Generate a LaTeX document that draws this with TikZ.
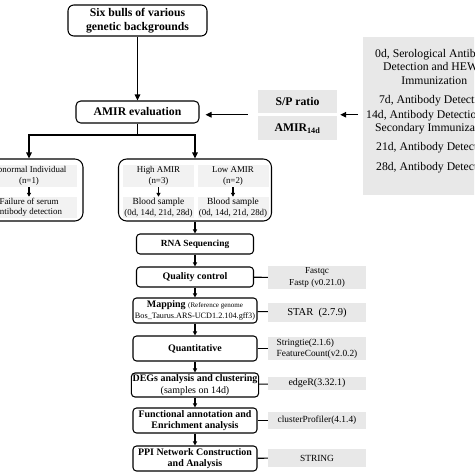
\documentclass[tikz,border=0pt]{standalone}
\usepackage{fontspec}
\setmainfont{Liberation Serif}
\usetikzlibrary{arrows.meta, positioning, calc}
\definecolor{boxgray}{RGB}{232,232,232}
\definecolor{innergray}{RGB}{242,242,242}

\begin{document}
\begin{tikzpicture}[
  x=0.03cm, y=-0.03cm,
  mainbox/.style={rectangle, draw, line width=0.9pt, rounded corners=3pt, fill=white, align=center,
    inner sep=1pt, minimum width=3.72cm, minimum height=0.75cm, font=\fontsize{8.5}{10}\selectfont\bfseries},
  topbox/.style={mainbox, rounded corners=5pt, font=\fontsize{10}{12}\selectfont\bfseries},
  greybox/.style={rectangle, fill=boxgray, align=center, inner sep=1pt, minimum width=2.94cm,
    font=\fontsize{8}{9.5}\selectfont},
  groupbox/.style={rectangle, draw, line width=0.9pt, rounded corners=7pt, minimum height=1.86cm},
  innerbox/.style={rectangle, fill=innergray, align=center, inner sep=0pt, minimum height=0.66cm,
    font=\fontsize{7.6}{9}\selectfont},
  arr/.style={-{Triangle[length=1.8mm,width=1.7mm]}, line width=0.9pt},
  smallarr/.style={-{Triangle[length=1.2mm,width=1.2mm]}, line width=0.9pt},
  link/.style={line width=0.9pt}
]
\useasboundingbox (0,0) rectangle (474,474);
\clip (0,0) rectangle (474,474);
\fill[white] (0,0) rectangle (474,474);

% evaluation part
\node[topbox, minimum width=4.17cm, minimum height=0.93cm] (bulls) at (137.5,20.5) {Six bulls of various\\genetic backgrounds};
\node[topbox, minimum width=3.69cm, minimum height=0.66cm, rounded corners=4pt] (amir) at (137.5,112) {AMIR evaluation};
\node[greybox, minimum width=2.37cm, minimum height=0.69cm, font=\fontsize{10}{12}\selectfont\bfseries] (spratio) at (297.5,101.5) {S/P ratio};
\node[greybox, minimum width=2.37cm, minimum height=0.72cm, font=\fontsize{10}{12}\selectfont\bfseries, below=0.09cm of spratio] (amir14) {AMIR\textsubscript{14d}};
\node[greybox, anchor=north west, inner sep=0pt, font=\fontsize{10}{11.5}\selectfont] (days) at (363,37)
  {\parbox[t][4.74cm][t]{4.26cm}{\centering\vspace*{10pt}%
    0d, Serological Antibody\\Detection and HEWL\\Immunization\\[5pt]
    7d, Antibody Detection\\[1pt]
    14d, Antibody Detection and\\Secondary Immunization\\[5pt]
    21d, Antibody Detection\\[5pt]
    28d, Antibody Detection}};

\draw[arr] (bulls) -- (amir);
\coordinate (spjoin) at ($(spratio.south west)!0.5!(amir14.north west)$);
\draw[arr, shorten <=0.3cm, shorten >=0.18cm] (spjoin) -- (amir.east |- spjoin);
\draw[arr, shorten <=0.15cm, shorten >=0.09cm] (days.west |- spjoin) -- (spratio.east |- spjoin);

% groups
\node[groupbox, minimum width=3.24cm] (abnbox) at (29,190) {};
\node[innerbox, minimum width=2.88cm] (abnormal) at (29,176) {Abnormal Individual\\(n=1)};
\node[innerbox, minimum width=2.88cm, minimum height=0.63cm] (failure) at (29,207.5) {Failure of serum\\antibody detection};
\node[groupbox, minimum width=4.59cm] (midbox) at (195,190) {};
\node[innerbox, minimum width=2.13cm] (high) at (158.5,176) {High AMIR\\(n=3)};
\node[innerbox, minimum width=2.13cm] (low) at (233,176) {Low AMIR\\(n=2)};
\node[innerbox, minimum width=2.13cm, minimum height=0.63cm] (highblood) at (158.5,207.5) {\fontsize{8}{9}\selectfont Blood sample\\(0d, 14d, 21d, 28d)};
\node[innerbox, minimum width=2.13cm, minimum height=0.63cm] (lowblood) at (233,207.5) {\fontsize{8}{9}\selectfont Blood sample\\(0d, 14d, 21d, 28d)};

\coordinate (split) at (137.5,135);
\draw[link] (amir) -- (split);
\draw[arr] (split) -| (abnbox.north);
\draw[arr] (split) -| (midbox.north);
\draw[smallarr] (abnormal) -- (failure);
\draw[smallarr] (high) -- (highblood);
\draw[smallarr] (low) -- (lowblood);

% sequencing pipeline
\node[mainbox, minimum width=3.51cm, minimum height=0.6cm, font=\fontsize{8}{9.5}\selectfont\bfseries] (rnaseq) at (195,244) {RNA Sequencing};
\node[mainbox, minimum width=3.51cm, minimum height=0.6cm] (qc) at (195,277) {Quality control};
\node[mainbox] (mapping) at (195,310.5) {Mapping {\mdseries\fontsize{6}{7}\selectfont(Reference genome}\\[-1pt]{\mdseries\fontsize{7}{8}\selectfont Bos\_Taurus.ARS-UCD1.2.104.gff3)}};
\node[mainbox] (quant) at (195,348.5) {Quantitative};
\node[mainbox, minimum height=0.72cm] (degs) at (195,385) {DEGs analysis and clustering\\{\mdseries (samples on 14d)}};
\node[mainbox] (func) at (195,420.5) {Functional annotation and\\Enrichment analysis};
\node[mainbox] (ppi) at (195,458.5) {PPI Network Construction\\and Analysis};

\node[greybox, minimum height=0.69cm, font=\fontsize{7.8}{9.5}\selectfont] (fastqc) at (317,277.5) {Fastqc\\Fastp (v0.21.0)};
\node[greybox, minimum height=0.57cm, font=\fontsize{9}{10}\selectfont] (star) at (317,312.5) {STAR\enspace(2.7.9)};
\node[greybox, minimum height=0.69cm, align=left] (stringtie) at (317,348.5) {Stringtie(2.1.6)\\FeatureCount(v2.0.2)};
\node[greybox, minimum height=0.38cm, inner sep=0pt, font=\fontsize{8.5}{10}\selectfont] (edger) at (317,383.5) {edgeR(3.32.1)};
\node[greybox, minimum height=0.51cm] (cluster) at (317,420.5) {clusterProfiler(4.1.4)};
\node[greybox, minimum height=0.54cm] (string) at (317,458) {STRING};

\draw[smallarr] (midbox) -- (rnaseq);
\draw[smallarr] (rnaseq) -- (qc);
\draw[smallarr] (qc) -- (mapping);
\draw[smallarr] (mapping) -- (quant);
\draw[smallarr] (quant) -- (degs);
\draw[smallarr] (degs) -- (func);
\draw[smallarr] (func) -- (ppi);

\draw[link] (qc) -- (fastqc);
\draw[link] (mapping) -- (star);
\draw[link] (quant) -- (stringtie);
\draw[link] (degs) -- (edger);
\draw[link] (func) -- (cluster);
\draw[link] (ppi) -- (string);
\end{tikzpicture}
\end{document}
